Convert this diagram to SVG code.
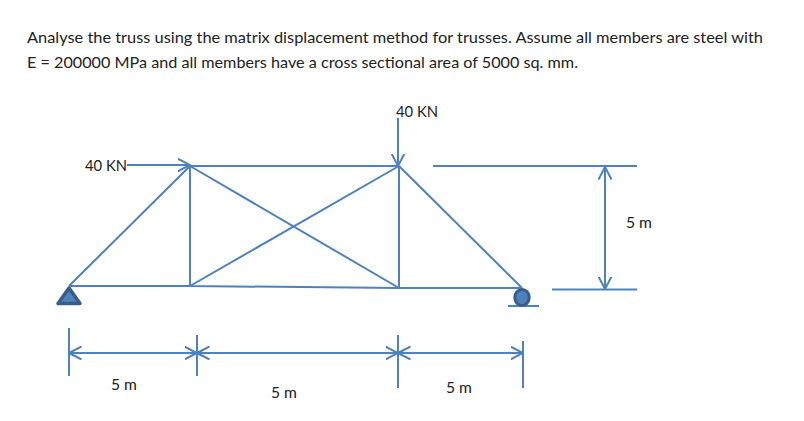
<svg xmlns="http://www.w3.org/2000/svg" width="804" height="421" viewBox="0 0 804 421">
<style>
text{font-family:"Lato","Open Sans","Liberation Sans",sans-serif;fill:#222;font-size:16px}
.l{fill:none;stroke:#4f81bd;stroke-width:2}
</style>
<defs>
<marker id="ah" viewBox="0 0 13 14" refX="12.500" refY="7" markerWidth="13" markerHeight="14" markerUnits="userSpaceOnUse" orient="auto-start-reverse"><path d="M0 0.500L12.500 7L0 13.500" fill="none" stroke="#4f81bd" stroke-width="2"/></marker>
</defs>
<g id="statement">
<text x="27" y="43" textLength="736" lengthAdjust="spacingAndGlyphs">Analyse the truss using the matrix displacement method for trusses. Assume all members are steel with</text>
<text x="27" y="68" textLength="551" lengthAdjust="spacingAndGlyphs">E = 200000 MPa and all members have a cross sectional area of 5000 sq. mm.</text>
</g>
<g id="connectors">
<path class="l" d="M69 286L190 166M190 166H399M190 166V286M69 286H190L399 288H522M399 166V288M190 286L399 166M190 166L399 288M399 166L522 288"/>
<path class="l" d="M127 165H190" marker-end="url(#ah)"/>
<path class="l" d="M398 118V166" marker-end="url(#ah)"/>
<path class="l" d="M433 166H637M552 289.500H637"/>
<path class="l" d="M605 167V289" marker-start="url(#ah)" marker-end="url(#ah)"/>
<path class="l" d="M69 328V376M197 335V376M398 335V388M523 341V388"/>
<path class="l" d="M69 353H197" marker-start="url(#ah)" marker-end="url(#ah)"/>
<path class="l" d="M197 353H398" marker-start="url(#ah)" marker-end="url(#ah)"/>
<path class="l" d="M398 353H523" marker-start="url(#ah)" marker-end="url(#ah)"/>
<path class="l" d="M508 306H539"/>
</g>
<g id="pin-support"><path d="M69 288L58 303.500H80Z" fill="#4f81bd" stroke="#385d8a" stroke-width="3.500" stroke-linejoin="round"/></g>
<g id="roller-support"><ellipse cx="522" cy="297.500" rx="7.200" ry="8" fill="#4f81bd" stroke="#385d8a" stroke-width="3"/></g>
<g id="labels">
<text x="85" y="171" textLength="42" lengthAdjust="spacingAndGlyphs">40 KN</text>
<text x="396" y="117" textLength="42" lengthAdjust="spacingAndGlyphs">40 KN</text>
<text x="626" y="228" textLength="26" lengthAdjust="spacingAndGlyphs">5 m</text>
<text x="111" y="390" textLength="26" lengthAdjust="spacingAndGlyphs">5 m</text>
<text x="271" y="398" textLength="26" lengthAdjust="spacingAndGlyphs">5 m</text>
<text x="446" y="393" textLength="26" lengthAdjust="spacingAndGlyphs">5 m</text>
</g>
</svg>
